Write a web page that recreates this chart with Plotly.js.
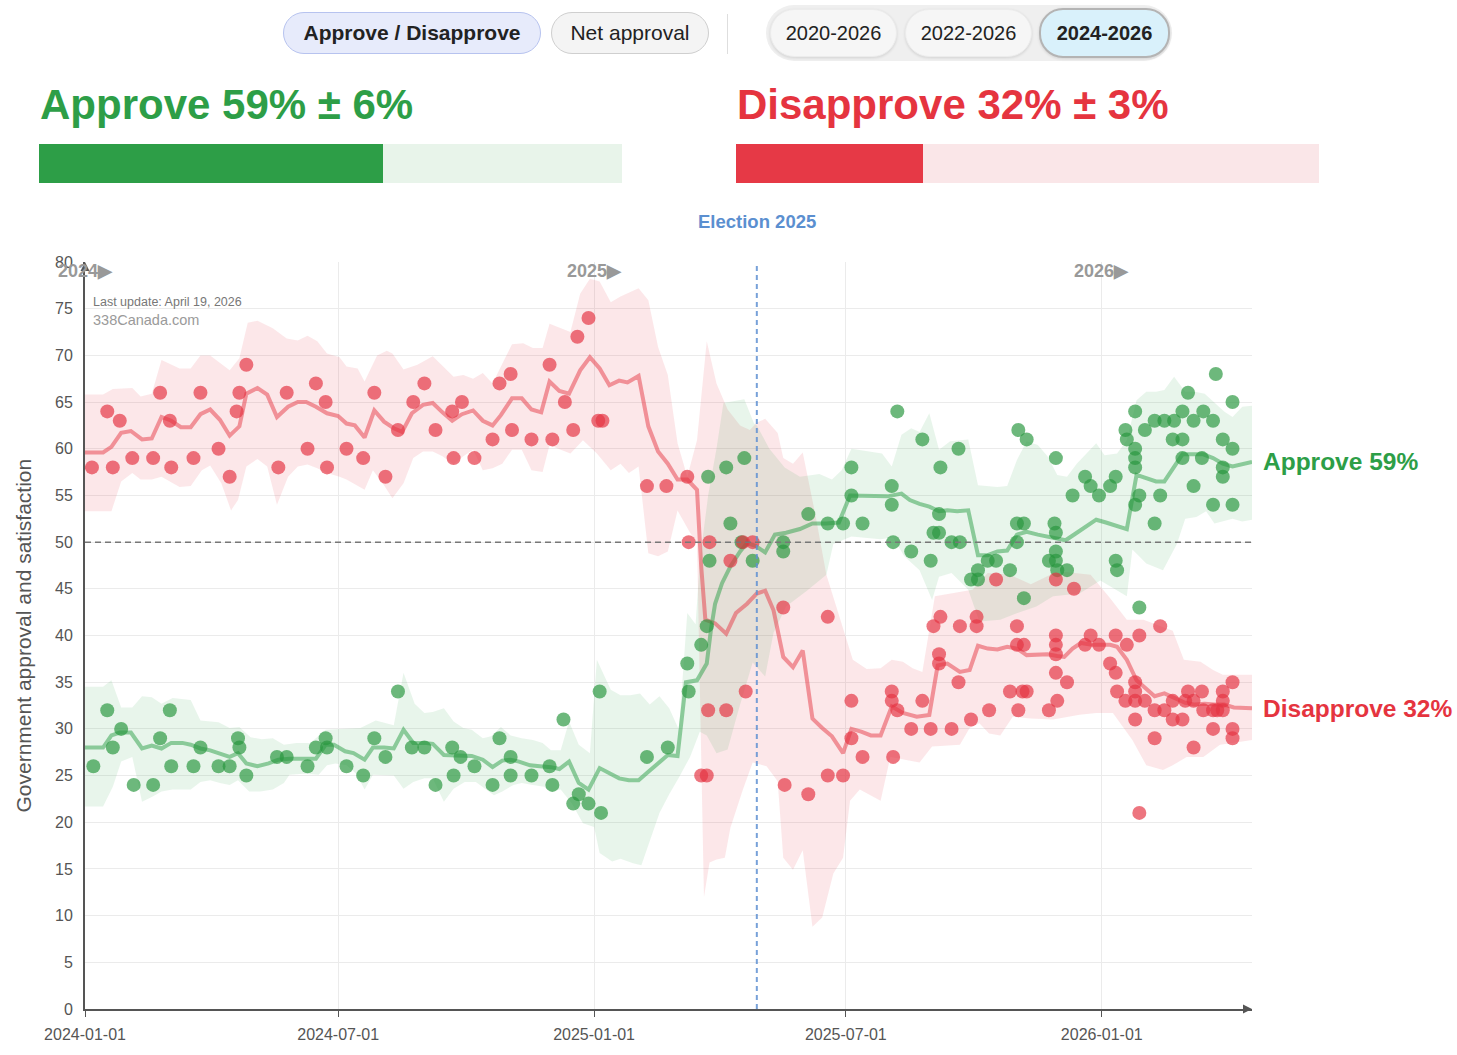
<!DOCTYPE html>
<html>
<head>
<meta charset="utf-8">
<script src="https://cdn.plot.ly/plotly-3.0.1.min.js"></script>
<style>
  body { margin: 0; background: #fff; font-family: "Liberation Sans", Arial, sans-serif; }
  #wrap { position: relative; width: 1457px; height: 1055px; overflow: hidden; }
  #chart { position: absolute; left: 0; top: 0; width: 1457px; height: 1055px; }
  .pill { position: absolute; box-sizing: border-box; display: flex; align-items: center; justify-content: center;
          font-size: 20px; color: #222; border-radius: 24px; white-space: nowrap; z-index: 2; }
  .mode { top: 12px; height: 42px; border: 1px solid #cfcfcf; background: #f4f4f4; font-size: 21px; }
  .mode.on { background: #e7ebfb; border-color: #b7c3ef; font-weight: bold; }
  .group { position: absolute; left: 766px; top: 5px; width: 406px; height: 56px; border-radius: 28px;
           background: #efefef; z-index: 1; }
  .period { top: 9px; height: 48px; width: 127px; background: #f6f6f6; border: 1px solid #ececec;
            box-shadow: 0 1px 3px rgba(0,0,0,0.12); }
  .period.on { background: #d9f1fb; border: 2px solid #b4b4b4; font-weight: bold; width: 131px; }
  .sep { position: absolute; left: 727px; top: 14px; width: 1px; height: 40px; background: #dedede; z-index: 2; }
</style>
</head>
<body>
<div id="wrap">
  <div id="chart"></div>
</div>
<script>
// ---- controls ----
const viewModes = ['Approve / Disapprove', 'Net approval'];
const activeMode = 0;
const periods = ['2020-2026', '2022-2026', '2024-2026'];
const activePeriod = 2;

// ---- headline numbers ----
const approveNow = 59, approveMoe = 6;
const disapproveNow = 32, disapproveMoe = 3;
const lastUpdate = 'April 19, 2026';
const siteName = '338Canada.com';

// ---- axes ----
const xTicks = ['2024-01-01', '2024-07-01', '2025-01-01', '2025-07-01', '2026-01-01'];
const yearMarks = ['2024', '2025', '2026'];
const electionDate = '2025-04-28';
const electionLabel = 'Election 2025';
const yTitle = 'Government approval and satisfaction';

// ---- individual polls: approve ----
const approveDotDates = ['2024-01-07','2024-01-17','2024-01-21','2024-01-27','2024-02-05','2024-02-19','2024-02-24','2024-03-02','2024-03-03','2024-03-19','2024-03-24','2024-04-06','2024-04-14','2024-04-20','2024-04-21','2024-04-26','2024-05-18','2024-05-25','2024-06-09','2024-06-15','2024-06-22','2024-06-23','2024-07-07','2024-07-19','2024-07-27','2024-08-04','2024-08-13','2024-08-23','2024-09-01','2024-09-09','2024-09-21','2024-09-22','2024-09-27','2024-10-07','2024-10-20','2024-10-25','2024-11-02','2024-11-02','2024-11-17','2024-11-30','2024-12-02','2024-12-10','2024-12-17','2024-12-21','2024-12-28','2025-01-05','2025-01-06','2025-02-08','2025-02-23','2025-03-09','2025-03-10','2025-03-19','2025-03-23','2025-03-24','2025-03-25','2025-04-06','2025-04-09','2025-04-17','2025-04-19','2025-04-25','2025-05-17','2025-05-17','2025-06-04','2025-06-18','2025-06-29','2025-07-05','2025-07-05','2025-07-13','2025-08-03','2025-08-03','2025-08-04','2025-08-07','2025-08-17','2025-08-25','2025-08-31','2025-09-02','2025-09-06','2025-09-06','2025-09-07','2025-09-15','2025-09-20','2025-09-21','2025-09-29','2025-10-04','2025-10-04','2025-10-11','2025-10-17','2025-10-27','2025-11-01','2025-11-01','2025-11-02','2025-11-06','2025-11-06','2025-11-08','2025-11-24','2025-11-28','2025-11-29','2025-11-29','2025-11-29','2025-11-29','2025-11-30','2025-12-07','2025-12-11','2025-12-20','2025-12-24','2025-12-30','2026-01-07','2026-01-11','2026-01-11','2026-01-12','2026-01-18','2026-01-19','2026-01-25','2026-01-25','2026-01-25','2026-01-25','2026-01-25','2026-01-28','2026-01-28','2026-02-01','2026-02-08','2026-02-08','2026-02-12','2026-02-15','2026-02-21','2026-02-22','2026-02-28','2026-02-28','2026-02-28','2026-03-04','2026-03-08','2026-03-08','2026-03-14','2026-03-15','2026-03-22','2026-03-22','2026-03-24','2026-03-29','2026-03-29','2026-03-29','2026-04-05','2026-04-05','2026-04-05'];
const approveDotValues = [26,32,28,30,24,24,29,32,26,26,28,26,26,29,28,25,27,27,26,28,29,28,26,25,29,27,34,28,28,24,28,25,27,26,24,29,27,25,25,26,24,31,22,23,22,34,21,27,28,37,34,39,41,57,48,58,52,50,59,48,50,49,53,52,52,58,55,52,56,54,50,64,49,61,48,51,51,53,58,50,60,50,46,47,46,48,48,47,50,52,62,52,44,61,48,52,59,51,49,48,47,47,55,57,56,55,56,57,48,47,62,61,64,60,59,58,54,55,43,62,63,52,55,63,61,63,61,64,59,66,63,56,59,64,63,54,68,61,58,57,60,54,65];

// ---- individual polls: disapprove ----
const disapproveDotDates = ['2024-01-06','2024-01-17','2024-01-21','2024-01-26','2024-02-04','2024-02-19','2024-02-24','2024-03-02','2024-03-03','2024-03-19','2024-03-24','2024-04-06','2024-04-14','2024-04-19','2024-04-21','2024-04-26','2024-05-19','2024-05-25','2024-06-09','2024-06-15','2024-06-22','2024-06-23','2024-07-07','2024-07-19','2024-07-27','2024-08-04','2024-08-13','2024-08-24','2024-09-01','2024-09-09','2024-09-21','2024-09-22','2024-09-28','2024-10-07','2024-10-20','2024-10-25','2024-11-02','2024-11-03','2024-11-17','2024-11-30','2024-12-02','2024-12-11','2024-12-17','2024-12-20','2024-12-28','2025-01-04','2025-01-07','2025-02-08','2025-02-22','2025-03-09','2025-03-10','2025-03-19','2025-03-23','2025-03-24','2025-03-25','2025-04-06','2025-04-09','2025-04-18','2025-04-20','2025-04-25','2025-05-17','2025-05-18','2025-06-04','2025-06-18','2025-06-18','2025-06-29','2025-07-05','2025-07-05','2025-07-13','2025-08-03','2025-08-03','2025-08-04','2025-08-07','2025-08-17','2025-08-25','2025-08-31','2025-09-02','2025-09-06','2025-09-06','2025-09-07','2025-09-15','2025-09-20','2025-09-21','2025-09-29','2025-10-03','2025-10-03','2025-10-12','2025-10-17','2025-10-27','2025-11-01','2025-11-01','2025-11-02','2025-11-05','2025-11-06','2025-11-08','2025-11-24','2025-11-29','2025-11-29','2025-11-29','2025-11-29','2025-11-29','2025-11-30','2025-12-07','2025-12-12','2025-12-20','2025-12-24','2025-12-30','2026-01-07','2026-01-11','2026-01-11','2026-01-12','2026-01-18','2026-01-19','2026-01-25','2026-01-25','2026-01-25','2026-01-25','2026-01-28','2026-01-28','2026-02-01','2026-02-08','2026-02-08','2026-02-12','2026-02-15','2026-02-21','2026-02-21','2026-02-28','2026-03-02','2026-03-04','2026-03-08','2026-03-08','2026-03-14','2026-03-15','2026-03-22','2026-03-22','2026-03-25','2026-03-29','2026-03-29','2026-03-29','2026-04-05','2026-04-05','2026-04-05'];
const disapproveDotValues = [58,64,58,63,59,59,66,63,58,59,66,60,57,64,66,69,58,66,60,67,65,58,60,59,66,57,62,65,67,62,64,59,65,59,61,67,68,62,61,69,61,65,62,72,74,63,63,56,56,57,50,25,25,32,50,32,48,50,34,50,43,24,23,42,25,25,33,29,27,34,33,27,32,30,33,30,41,38,37,42,30,35,41,31,42,41,32,46,34,41,39,32,34,39,34,32,46,40,39,38,36,33,35,45,39,40,39,37,36,40,34,33,39,35,34,33,31,40,21,33,32,29,41,32,31,33,31,33,34,33,28,34,32,32,30,32,34,33,32,30,29,35];

// ---- polling average ----
const approveTrendDates = ['2024-01-01','2024-01-14','2024-01-20','2024-01-26','2024-02-03','2024-02-11','2024-02-18','2024-02-25','2024-03-03','2024-03-11','2024-03-17','2024-03-24','2024-03-31','2024-04-07','2024-04-14','2024-04-20','2024-04-26','2024-05-04','2024-05-12','2024-05-19','2024-05-27','2024-06-06','2024-06-15','2024-06-22','2024-06-28','2024-07-06','2024-07-12','2024-07-20','2024-07-26','2024-08-03','2024-08-10','2024-08-17','2024-08-24','2024-09-01','2024-09-07','2024-09-15','2024-09-22','2024-09-28','2024-10-05','2024-10-13','2024-10-20','2024-10-27','2024-11-02','2024-11-08','2024-11-16','2024-11-23','2024-12-01','2024-12-07','2024-12-14','2024-12-21','2024-12-28','2025-01-05','2025-01-12','2025-01-19','2025-01-26','2025-02-02','2025-02-09','2025-02-16','2025-02-23','2025-03-02','2025-03-08','2025-03-16','2025-03-23','2025-03-26','2025-03-29','2025-04-03','2025-04-09','2025-04-16','2025-04-21','2025-04-27','2025-05-04','2025-05-11','2025-05-19','2025-05-29','2025-06-07','2025-06-17','2025-06-26','2025-07-04','2025-07-18','2025-07-31','2025-08-10','2025-08-16','2025-08-23','2025-08-30','2025-09-06','2025-09-12','2025-09-19','2025-09-27','2025-10-04','2025-10-11','2025-10-18','2025-10-25','2025-11-01','2025-11-08','2025-11-16','2025-11-23','2025-11-30','2025-12-06','2025-12-13','2025-12-21','2025-12-28','2026-01-04','2026-01-12','2026-01-19','2026-01-26','2026-02-02','2026-02-09','2026-02-15','2026-02-22','2026-02-28','2026-03-07','2026-03-15','2026-03-22','2026-03-29','2026-04-05','2026-04-12','2026-04-19'];
const approveTrendValues = [28.0,28.0,29.3,29.6,29.6,27.9,28.2,27.9,28.5,28.5,28.3,27.9,27.7,27.4,27.0,27.4,26.3,26.0,26.3,26.7,26.8,26.8,26.8,28.3,28.3,27.6,27.4,26.7,28.0,28.0,27.9,29.9,28.5,28.5,28.4,27.2,27.2,27.2,27.1,26.7,25.9,26.6,26.7,26.5,26.1,26.0,25.9,25.7,26.5,24.2,23.5,25.8,25.2,24.7,24.5,24.5,25.4,26.3,27.2,27.1,35.0,35.2,37.0,40.6,43.4,45.6,47.4,49.0,49.9,49.6,48.9,50.8,51.0,51.4,52.0,52.0,52.1,55.0,54.9,54.9,55.2,54.5,54.1,53.8,53.3,53.4,53.3,53.4,48.6,48.6,49.0,49.1,50.8,51.1,50.8,50.6,50.4,50.2,50.9,51.7,52.4,52.1,51.7,51.4,57.2,56.8,56.5,56.5,58.1,59.4,59.4,59.4,59.0,58.4,58.1,58.4,58.6];

const disapproveTrendDates = ['2024-01-01','2024-01-14','2024-01-20','2024-01-27','2024-02-03','2024-02-11','2024-02-18','2024-02-25','2024-03-03','2024-03-10','2024-03-17','2024-03-24','2024-03-31','2024-04-07','2024-04-14','2024-04-21','2024-04-26','2024-05-04','2024-05-11','2024-05-18','2024-05-26','2024-06-02','2024-06-08','2024-06-15','2024-06-23','2024-07-01','2024-07-07','2024-07-13','2024-07-20','2024-07-27','2024-08-03','2024-08-10','2024-08-16','2024-08-23','2024-08-31','2024-09-07','2024-09-14','2024-09-21','2024-09-28','2024-10-06','2024-10-13','2024-10-20','2024-10-26','2024-11-03','2024-11-10','2024-11-17','2024-11-24','2024-11-30','2024-12-07','2024-12-14','2024-12-22','2024-12-29','2025-01-05','2025-01-12','2025-01-19','2025-01-25','2025-02-02','2025-02-09','2025-02-16','2025-02-23','2025-03-02','2025-03-09','2025-03-16','2025-03-19','2025-03-22','2025-03-29','2025-04-06','2025-04-13','2025-04-21','2025-04-28','2025-05-04','2025-05-10','2025-05-17','2025-05-24','2025-05-31','2025-06-07','2025-06-14','2025-06-21','2025-06-29','2025-07-05','2025-07-12','2025-07-19','2025-07-26','2025-08-03','2025-08-11','2025-08-21','2025-08-30','2025-09-05','2025-09-12','2025-09-21','2025-09-28','2025-10-04','2025-10-11','2025-10-18','2025-10-25','2025-11-01','2025-11-08','2025-11-16','2025-11-23','2025-11-30','2025-12-05','2025-12-11','2025-12-17','2025-12-25','2026-01-01','2026-01-07','2026-01-12','2026-01-19','2026-01-26','2026-02-02','2026-02-08','2026-02-15','2026-02-22','2026-03-02','2026-03-09','2026-03-16','2026-03-23','2026-03-30','2026-04-06','2026-04-13','2026-04-19'];
const disapproveTrendValues = [59.6,59.6,60.2,61.7,61.9,61.0,61.1,63.4,63.0,62.3,62.3,63.7,64.2,63.1,61.4,62.4,65.9,66.5,65.8,63.4,64.5,65.0,65.0,64.5,63.8,63.5,62.7,62.5,61.2,64.1,62.9,62.2,61.8,63.8,64.7,64.9,63.9,63.0,63.7,64.1,63.0,62.5,63.6,65.4,65.4,64.2,63.9,67.2,66.2,65.9,68.4,69.8,68.6,66.8,67.3,67.1,67.8,62.4,59.7,58.4,56.7,56.7,55.6,47.4,41.7,41.3,40.2,42.4,43.4,44.5,44.8,42.7,37.7,36.6,38.4,31.1,30.1,29.2,27.4,30.0,29.7,29.3,29.3,32.4,31.7,31.3,31.5,36.8,37.0,36.1,36.3,38.9,38.6,38.5,38.8,38.6,37.9,37.9,38.0,37.8,37.7,38.6,39.2,39.0,39.0,39.0,38.8,37.4,35.2,34.3,33.5,33.8,33.3,32.8,32.6,32.7,32.6,32.6,32.3,32.2,32.2];

// ---- uncertainty bands ----
const approveUpperDates = ['2024-01-01','2024-01-14','2024-01-20','2024-01-27','2024-02-04','2024-02-11','2024-02-18','2024-02-25','2024-03-04','2024-03-17','2024-03-24','2024-04-06','2024-04-14','2024-04-21','2024-04-29','2024-05-07','2024-05-15','2024-05-23','2024-06-01','2024-06-11','2024-06-22','2024-07-07','2024-07-17','2024-07-28','2024-08-10','2024-08-17','2024-08-25','2024-09-01','2024-09-07','2024-09-15','2024-09-22','2024-09-29','2024-10-05','2024-10-13','2024-10-19','2024-10-26','2024-11-02','2024-11-10','2024-11-18','2024-11-25','2024-12-01','2024-12-08','2024-12-14','2024-12-21','2024-12-29','2025-01-03','2025-01-13','2025-01-20','2025-01-27','2025-02-03','2025-02-10','2025-02-17','2025-02-24','2025-03-03','2025-03-09','2025-03-15','2025-03-18','2025-03-24','2025-03-30','2025-04-04','2025-04-19','2025-04-26','2025-04-28','2025-05-07','2025-05-18','2025-05-29','2025-06-12','2025-06-21','2025-06-28','2025-07-05','2025-07-20','2025-07-27','2025-08-03','2025-08-10','2025-08-17','2025-08-23','2025-08-30','2025-09-06','2025-09-14','2025-09-27','2025-10-04','2025-10-18','2025-10-25','2025-11-01','2025-11-08','2025-11-16','2025-11-23','2025-11-30','2025-12-07','2025-12-14','2025-12-21','2025-12-28','2026-01-03','2026-01-12','2026-01-19','2026-01-26','2026-02-02','2026-02-09','2026-02-15','2026-02-22','2026-03-02','2026-03-09','2026-03-16','2026-03-23','2026-03-30','2026-04-05','2026-04-12','2026-04-19'];
const approveUpper = [34.5,34.5,35.2,32.3,32.3,33.5,33.4,32.7,33.3,33.1,30.9,30.7,30.1,30.2,29.1,28.9,29.0,28.3,28.5,28.5,29.9,30.0,30.1,30.9,30.4,36.0,32.7,31.7,31.8,32.2,30.8,30.1,29.9,29.0,29.2,30.2,29.3,29.0,28.8,28.5,27.7,27.7,30.8,28.3,27.4,37.4,34.2,33.6,33.6,33.8,32.6,33.5,32.2,29.9,42.4,41.2,48.0,55.0,60.0,64.9,65.3,62.7,62.5,60.0,58.0,57.0,57.3,56.7,57.7,60.0,59.7,59.5,58.1,61.5,62.2,61.8,63.8,59.9,60.8,61.0,56.1,55.9,56.0,58.8,60.8,60.4,59.2,57.2,57.0,58.4,59.5,60.6,59.3,59.5,60.9,65.2,66.1,66.1,66.3,67.7,66.1,66.1,65.9,65.0,64.0,63.4,64.5,64.6];
const approveLowerDates = ['2024-01-01','2024-01-14','2024-01-21','2024-01-27','2024-02-04','2024-02-11','2024-02-18','2024-02-25','2024-03-04','2024-03-17','2024-03-24','2024-03-31','2024-04-07','2024-04-14','2024-04-20','2024-04-28','2024-05-06','2024-05-15','2024-05-23','2024-05-27','2024-06-06','2024-06-17','2024-06-23','2024-06-29','2024-07-07','2024-07-14','2024-07-20','2024-07-26','2024-08-10','2024-08-17','2024-08-24','2024-09-01','2024-09-07','2024-09-15','2024-09-22','2024-09-30','2024-10-08','2024-10-13','2024-10-21','2024-10-27','2024-11-04','2024-11-10','2024-11-18','2024-11-26','2024-12-01','2024-12-08','2024-12-16','2024-12-24','2025-01-01','2025-01-05','2025-01-14','2025-01-20','2025-01-29','2025-02-04','2025-02-07','2025-02-10','2025-02-17','2025-02-24','2025-03-03','2025-03-11','2025-03-18','2025-03-23','2025-03-30','2025-04-07','2025-04-15','2025-04-25','2025-05-04','2025-05-10','2025-05-19','2025-06-03','2025-06-17','2025-06-22','2025-07-05','2025-07-26','2025-08-04','2025-08-12','2025-08-23','2025-09-01','2025-09-06','2025-09-15','2025-09-27','2025-10-05','2025-10-20','2025-11-03','2025-11-15','2025-11-27','2025-12-16','2025-12-31','2026-01-19','2026-01-23','2026-02-02','2026-02-14','2026-02-24','2026-03-02','2026-03-10','2026-03-17','2026-03-23','2026-04-05','2026-04-12','2026-04-19'];
const approveLower = [21.7,21.7,23.8,26.5,27.0,22.2,22.7,23.3,23.5,23.5,24.3,24.5,24.2,24.0,24.5,23.3,23.3,23.5,24.2,25.1,25.2,25.1,26.1,26.3,26.1,25.2,23.5,25.1,25.0,23.6,24.3,24.7,24.7,22.2,23.6,24.3,24.3,23.8,22.9,23.3,24.0,24.2,24.0,23.8,23.3,23.5,22.0,19.9,19.5,16.7,15.8,16.1,15.6,15.4,16.7,18.1,21.0,23.0,24.8,27.0,29.7,29.3,27.4,27.8,32.1,37.1,35.6,40.3,43.1,44.8,46.5,49.8,50.6,50.3,50.5,48.5,47.0,43.8,46.3,46.7,44.9,41.5,41.7,42.5,43.1,44.2,44.5,45.9,44.2,49.2,47.7,47.0,49.8,52.5,52.7,53.3,52.0,52.5,52.2,52.4];

const disapproveUpperDates = ['2024-01-01','2024-01-14','2024-01-21','2024-02-04','2024-02-10','2024-02-18','2024-02-25','2024-03-09','2024-03-17','2024-03-24','2024-03-31','2024-04-14','2024-04-21','2024-04-27','2024-05-04','2024-05-15','2024-05-25','2024-06-02','2024-06-09','2024-06-16','2024-06-23','2024-07-02','2024-07-07','2024-07-15','2024-07-20','2024-07-29','2024-08-05','2024-08-09','2024-08-17','2024-08-27','2024-09-07','2024-09-22','2024-09-29','2024-10-06','2024-10-13','2024-10-20','2024-11-03','2024-11-11','2024-11-18','2024-11-25','2024-11-30','2024-12-08','2024-12-15','2024-12-22','2024-12-29','2025-01-05','2025-01-13','2025-01-20','2025-02-02','2025-02-09','2025-02-16','2025-02-23','2025-03-02','2025-03-09','2025-03-16','2025-03-23','2025-03-30','2025-04-07','2025-04-16','2025-04-23','2025-04-28','2025-05-04','2025-05-13','2025-05-17','2025-05-24','2025-05-31','2025-06-03','2025-06-09','2025-06-17','2025-06-29','2025-07-06','2025-07-16','2025-07-26','2025-08-03','2025-08-11','2025-08-18','2025-08-25','2025-09-03','2025-09-14','2025-09-30','2025-10-11','2025-10-27','2025-11-11','2025-11-25','2025-12-06','2025-12-24','2026-01-07','2026-01-19','2026-01-31','2026-02-14','2026-02-21','2026-03-01','2026-03-13','2026-03-22','2026-03-29','2026-04-19'];
const disapproveUpper = [65.8,65.8,66.4,66.5,65.6,65.9,69.5,68.6,68.6,70.0,70.0,68.4,69.7,73.5,73.7,72.9,71.8,71.6,72.1,71.5,70.2,69.8,68.8,68.6,67.2,70.0,70.5,70.2,68.5,69.0,69.9,67.7,67.9,67.5,68.1,67.0,71.2,71.3,70.8,70.8,73.4,72.9,72.5,76.6,78.2,77.9,75.7,76.3,77.2,75.9,70.9,67.9,60.6,57.0,60.9,71.5,67.0,64.2,62.5,62.0,62.8,63.2,61.7,59.0,58.4,59.6,57.5,53.0,46.5,40.7,37.4,36.4,36.5,37.4,37.2,36.5,36.1,44.2,44.5,44.9,46.7,46.5,45.5,46.5,46.8,46.5,44.0,41.7,41.7,40.9,40.5,37.4,37.2,36.3,35.8,35.8];
const disapproveLowerDates = ['2024-01-01','2024-01-20','2024-01-27','2024-02-04','2024-02-10','2024-02-18','2024-02-25','2024-03-09','2024-03-17','2024-03-25','2024-03-31','2024-04-08','2024-04-15','2024-04-20','2024-04-26','2024-05-04','2024-05-11','2024-05-18','2024-05-26','2024-06-02','2024-06-09','2024-06-16','2024-06-23','2024-07-02','2024-07-07','2024-07-20','2024-07-26','2024-08-02','2024-08-09','2024-08-17','2024-08-24','2024-08-31','2024-09-07','2024-09-14','2024-09-22','2024-09-29','2024-10-06','2024-10-13','2024-10-20','2024-10-27','2024-11-03','2024-11-10','2024-11-17','2024-11-25','2024-11-30','2024-12-08','2024-12-15','2024-12-24','2025-01-03','2025-01-13','2025-01-20','2025-01-26','2025-02-02','2025-02-09','2025-02-16','2025-02-23','2025-03-02','2025-03-11','2025-03-16','2025-03-20','2025-03-21','2025-03-25','2025-03-30','2025-04-05','2025-04-09','2025-04-18','2025-04-25','2025-05-05','2025-05-13','2025-05-17','2025-05-24','2025-05-31','2025-06-07','2025-06-14','2025-06-22','2025-06-29','2025-07-04','2025-07-11','2025-07-26','2025-08-02','2025-08-11','2025-08-23','2025-09-01','2025-09-21','2025-09-28','2025-10-05','2025-10-12','2025-10-20','2025-10-29','2025-11-11','2025-11-27','2025-12-16','2025-12-28','2026-01-09','2026-01-23','2026-02-02','2026-02-14','2026-02-21','2026-03-03','2026-03-15','2026-03-27','2026-04-05','2026-04-19'];
const disapproveLower = [53.3,53.3,56.5,57.4,56.7,56.7,57.0,55.9,56.0,57.7,58.2,56.3,53.4,54.5,58.1,58.9,58.1,54.0,57.0,58.1,58.3,57.9,57.4,57.0,56.7,55.6,57.7,56.3,54.7,56.3,59.0,59.7,59.7,59.2,58.3,59.2,59.9,57.7,57.9,58.4,59.9,59.9,57.7,57.5,60.4,59.9,59.5,60.9,59.5,57.7,58.4,57.4,58.1,48.8,48.5,49.0,53.4,51.0,50.0,20.0,12.0,15.7,16.0,16.2,19.4,23.5,26.4,26.0,24.4,16.2,14.9,17.0,8.8,9.8,14.5,16.2,22.3,23.5,22.3,27.0,26.7,26.4,28.1,28.3,30.1,30.6,29.5,29.3,31.3,31.1,31.0,31.5,31.7,31.7,28.8,26.1,25.6,26.1,27.0,27.0,28.3,28.5,28.8];

// ---- colours ----
const green = '#2d9e47';
const red = '#e5343f';

// ---- build page controls ----
const wrap = document.getElementById('wrap');
function addEl(cls, text, left, width) {
  const d = document.createElement('div');
  d.className = cls;
  if (text !== null) d.textContent = text;
  if (left !== undefined) d.style.left = left + 'px';
  if (width !== undefined) d.style.width = width + 'px';
  wrap.appendChild(d);
  return d;
}
const modeLefts = [283, 551], modeWidths = [258, 158];
viewModes.forEach((m, i) => addEl('pill mode' + (i === activeMode ? ' on' : ''), m, modeLefts[i], modeWidths[i]));
addEl('sep', null);
addEl('group', null);
const periodLefts = [770, 905, 1039];
periods.forEach((p, i) => {
  const el = addEl('pill period' + (i === activePeriod ? ' on' : ''), p, periodLefts[i]);
  if (i === activePeriod) { el.style.top = '8px'; el.style.height = '50px'; }
});

// ---- chart ----
function band(upX, upY, loX, loY, color) {
  return {
    x: upX.concat(loX.slice().reverse()),
    y: upY.concat(loY.slice().reverse()),
    type: 'scatter', mode: 'lines', fill: 'toself', fillcolor: color,
    line: { width: 0 }, hoverinfo: 'skip', xaxis: 'x', yaxis: 'y'
  };
}

const traces = [
  band(disapproveUpperDates, disapproveUpper, disapproveLowerDates, disapproveLower, 'rgba(230,57,70,0.12)'),
  band(approveUpperDates, approveUpper, approveLowerDates, approveLower, 'rgba(44,160,72,0.11)'),
  { x: disapproveTrendDates, y: disapproveTrendValues, type: 'scatter', mode: 'lines',
    line: { color: 'rgba(230,57,70,0.5)', width: 4 }, xaxis: 'x', yaxis: 'y' },
  { x: approveTrendDates, y: approveTrendValues, type: 'scatter', mode: 'lines',
    line: { color: 'rgba(44,160,72,0.5)', width: 4 }, xaxis: 'x', yaxis: 'y' },
  { x: approveDotDates, y: approveDotValues, type: 'scatter', mode: 'markers',
    marker: { size: 14, color: 'rgba(40,150,62,0.68)', line: { width: 0 } }, xaxis: 'x', yaxis: 'y' },
  { x: disapproveDotDates, y: disapproveDotValues, type: 'scatter', mode: 'markers',
    marker: { size: 14, color: 'rgba(228,52,66,0.68)', line: { width: 0 } }, xaxis: 'x', yaxis: 'y' },
  // headline bars
  { y: ['a'], x: [100], type: 'bar', orientation: 'h', width: 1, marker: { color: '#e8f4ea' }, xaxis: 'x2', yaxis: 'y2' },
  { y: ['a'], x: [approveNow], type: 'bar', orientation: 'h', width: 1, marker: { color: green }, xaxis: 'x2', yaxis: 'y2' },
  { y: ['d'], x: [100], type: 'bar', orientation: 'h', width: 1, marker: { color: '#fae6e8' }, xaxis: 'x3', yaxis: 'y3' },
  { y: ['d'], x: [disapproveNow], type: 'bar', orientation: 'h', width: 1, marker: { color: '#e63946' }, xaxis: 'x3', yaxis: 'y3' }
];

const W = 1457, H = 1055;
const px = v => v / W, py = v => (H - v) / H;
const font = 'Liberation Sans, Arial, sans-serif';

const approveLast = approveTrendValues[approveTrendValues.length - 1];
const disapproveLast = disapproveTrendValues[disapproveTrendValues.length - 1];

const annotations = [
  { text: 'Approve ' + approveNow + '% ± ' + approveMoe + '%', xref: 'paper', yref: 'paper', x: px(38), y: py(104),
    xanchor: 'left', yanchor: 'middle', showarrow: false, font: { family: font, size: 42, color: green, weight: 'bold' } },
  { text: 'Disapprove ' + disapproveNow + '% ± ' + disapproveMoe + '%', xref: 'paper', yref: 'paper', x: px(735), y: py(104),
    xanchor: 'left', yanchor: 'middle', showarrow: false, font: { family: font, size: 42, color: red, weight: 'bold' } },
  { text: electionLabel, xref: 'x', yref: 'paper', x: electionDate, y: py(222), xanchor: 'center', yanchor: 'middle',
    showarrow: false, font: { family: font, size: 18.5, color: '#5b8fd0', weight: 'bold' } },
  { text: 'Last update: ' + lastUpdate, xref: 'paper', yref: 'paper', x: px(91), y: py(302), xanchor: 'left', yanchor: 'middle',
    showarrow: false, font: { family: font, size: 12.5, color: '#777' } },
  { text: siteName, xref: 'paper', yref: 'paper', x: px(91), y: py(320), xanchor: 'left', yanchor: 'middle',
    showarrow: false, font: { family: font, size: 14.5, color: '#9a9a9a' } },
  { text: yTitle, xref: 'paper', yref: 'paper', x: px(23), y: py(635.5), textangle: -90, xanchor: 'center', yanchor: 'middle',
    showarrow: false, font: { family: font, size: 21, color: '#555' } },
  { text: 'Approve ' + Math.round(approveLast) + '%', xref: 'paper', yref: 'y', x: px(1261), y: approveLast,
    xanchor: 'left', yanchor: 'middle', showarrow: false, font: { family: font, size: 24.5, color: green, weight: 'bold' } },
  { text: 'Disapprove ' + Math.round(disapproveLast) + '%', xref: 'paper', yref: 'y', x: px(1261), y: disapproveLast,
    xanchor: 'left', yanchor: 'middle', showarrow: false, font: { family: font, size: 24.5, color: red, weight: 'bold' } }
];
yearMarks.forEach(yr => annotations.push({
  text: yr + '▶', xref: 'x', yref: 'paper', x: yr + '-01-01', y: py(271), xanchor: 'center', yanchor: 'middle',
  showarrow: false, font: { family: font, size: 18, color: '#999', weight: 'bold' }
}));

const shapes = [
  { type: 'line', xref: 'x domain', yref: 'y', x0: 0, x1: 1, y0: 50, y1: 50,
    line: { color: '#777', width: 1.5, dash: '6px,4px' }, layer: 'above' },
  { type: 'line', xref: 'x', yref: 'y domain', x0: electionDate, x1: electionDate, y0: 0, y1: 1,
    line: { color: 'rgba(95,145,210,0.85)', width: 2, dash: '5px,4px' }, layer: 'above' },
  { type: 'path', xref: 'x domain', yref: 'y domain', xsizemode: 'pixel', ysizemode: 'pixel', xanchor: 1, yanchor: 0,
    path: 'M 0 0 L -9 4.5 L -9 -4.5 Z', fillcolor: '#555', line: { width: 0 }, layer: 'above' },
  { type: 'path', xref: 'x domain', yref: 'y domain', xsizemode: 'pixel', ysizemode: 'pixel', xanchor: 0, yanchor: 1,
    path: 'M 0 0 L -4.5 -9 L 4.5 -9 Z', fillcolor: '#555', line: { width: 0 }, layer: 'above' }
];

const layout = {
  width: W, height: H, margin: { l: 0, r: 0, t: 0, b: 0 },
  paper_bgcolor: '#fff', plot_bgcolor: 'rgba(0,0,0,0)', showlegend: false, hovermode: false,
  font: { family: font, color: '#555' },
  barmode: 'overlay', bargap: 0,
  xaxis: { type: 'date', domain: [px(85), px(1252)], range: ['2024-01-01', '2026-04-19'],
    tickvals: xTicks, ticktext: xTicks, tickfont: { size: 16, color: '#555' },
    ticks: 'outside', ticklen: 6, tickcolor: '#555', tickwidth: 1, ticklabelstandoff: 4,
    showgrid: true, gridcolor: '#ebebeb', gridwidth: 1,
    showline: true, linecolor: '#555', linewidth: 2, zeroline: false, anchor: 'y', fixedrange: true },
  yaxis: { domain: [(H - 1009) / H, (H - 262) / H], range: [0, 80], tick0: 0, dtick: 5,
    tickfont: { size: 16, color: '#555' }, ticks: '', ticklabelstandoff: 7, showgrid: true, gridcolor: '#ebebeb', gridwidth: 1,
    showline: true, linecolor: '#555', linewidth: 2, zeroline: false, anchor: 'x', fixedrange: true },
  xaxis2: { domain: [px(39), px(622)], range: [0, 100], visible: false, anchor: 'y2', fixedrange: true },
  yaxis2: { domain: [py(183), py(144)], range: [-0.5, 0.5], visible: false, anchor: 'x2', fixedrange: true },
  xaxis3: { domain: [px(736), px(1319)], range: [0, 100], visible: false, anchor: 'y3', fixedrange: true },
  yaxis3: { domain: [py(183), py(144)], range: [-0.5, 0.5], visible: false, anchor: 'x3', fixedrange: true },
  annotations: annotations,
  shapes: shapes
};

Plotly.newPlot('chart', traces, layout, { staticPlot: true, displayModeBar: false });
</script>
</body>
</html>
